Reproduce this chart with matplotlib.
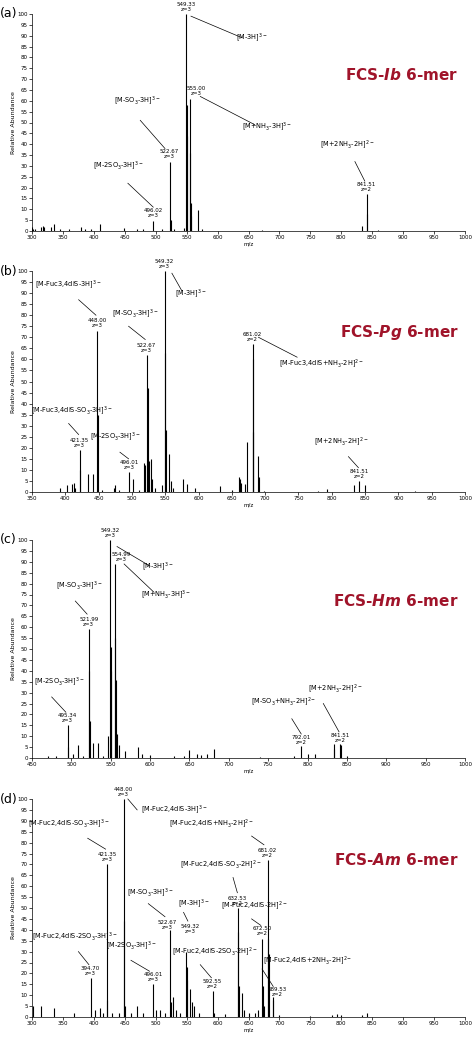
import matplotlib
matplotlib.use("Agg")
import matplotlib.pyplot as plt

plt.rcParams['mathtext.fontset'] = 'custom'
plt.rcParams['mathtext.it'] = 'DejaVu Sans:italic:bold'
plt.rcParams['mathtext.rm'] = 'DejaVu Sans'

peaks_a = [(300,2),(302,1),(305,1),(315,2),(318,2.5),(320,2),(330,2),(335,3),(345,1),(360,1),(380,2),(385,1),(395,1),(410,3),(448,1.5),(470,1),(480,1),(496.02,4.5),(510,1),(522.67,32),(524,5),(530,1),(545,1.5),(549.33,100),(550,58),(550.7,44),(555,61),(555.7,36),(556.5,13),(557,7),(568,9.5),(575,1),(672,0.5),(833,2.5),(841.51,17),(842,8),(860,0.5)]
peaks_b = [(392,2),(403,3),(410,3.5),(413,4),(415,2),(421.35,19),(422,10),(434,8),(442,8),(448,73),(449,35),(455,1),(473,2),(475,3),(480,1),(496.01,9),(501,6),(510,1),(518,13),(520,12),(522.67,62),(523.5,47),(525,14),(528,15),(530,6),(535,2),(545,3),(549.32,100),(550,63),(551,28),(556,17),(558,5),(562,2),(576,6),(582,3.5),(595,2),(632,2.5),(650,1),(660,7),(662,6),(664,4),(670,3.5),(673,22.5),(681.02,67),(681.7,60),(682.5,27),(690,16.5),(691,7),(698,0.5),(780,0.5),(793,1.5),(833,3),(841.51,5),(850,3),(925,0.3)]
peaks_c = [(470,1),(480,1),(495.34,15),(496,5),(502,2),(509,6),(515,1),(521.99,59),(522.7,40),(523.5,17),(528,7),(534,7),(540,1),(547,10),(549.32,100),(550,51),(550.7,40),(554.99,89),(555.6,55),(556.5,36),(558,11),(560,6),(568,3),(585,5),(590,2),(600,1.5),(630,1),(643,1),(650,3.5),(660,2),(665,1.5),(672,2),(681,4),(740,0.5),(783,1),(792.01,5.5),(800,2),(810,2),(833,6.5),(834,4),(841.51,6.5),(843,6),(850,1)]
peaks_d = [(302,5),(315,5),(335,4),(368,2),(394.7,18),(402,3),(410,4),(415,2),(421.35,70),(422,8),(430,2),(440,2),(448,100),(449,44),(450,5),(460,2),(470,5),(480,2),(496.01,15),(500,3),(507,3),(515,2),(522.67,40),(524,7),(528,9),(532,3),(540,2),(549.32,30),(550,23),(551,17),(555,13),(558,7),(562,5),(570,2),(592.55,12),(595,2),(612,1.5),(632.53,50),(633,39),(634,14),(640,11),(642,3),(650,2),(660,2),(665,3),(672.5,36),(673,14),(675,5),(681.02,72),(681.6,36),(682.5,29),(689.53,8),(690,9),(700,1),(750,0.5),(785,1),(793,1.5),(800,1),(833,1),(841,2)]

xlims = [(300,1000),(350,1000),(450,1000),(300,1000)]
letters = ['(a)','(b)','(c)','(d)']
titles = [r'FCS-$\mathit{Ib}$ 6-mer', r'FCS-$\mathit{Pg}$ 6-mer', r'FCS-$\mathit{Hm}$ 6-mer', r'FCS-$\mathit{Am}$ 6-mer']

# (peak label, ion label, label x,y, ion x,y, line from, line to)
ann_a = [("549.33\nz=3", r"[M-3H]$^{3-}$", 549,101, 655,86, (557,99),(640,89)),
         ("555.00\nz=3", r"[M+NH$_3$-3H]$^{3-}$", 565,62, 680,45, (572,62),(660,49)),
         ("522.67\nz=3", r"[M-SO$_3$-3H]$^{3-}$", 522,33, 470,57, (475,51),(515,38)),
         ("496.02\nz=3", r"[M-2SO$_3$-3H]$^{3-}$", 496,6, 440,27, (455,22),(496,11)),
         ("841.51\nz=2", r"[M+2NH$_3$-2H]$^{2-}$", 841,18, 810,37, (822,32),(838,23))]
ann_b = [("549.32\nz=3", r"[M-3H]$^{3-}$", 549,101, 588,87, (560,99),(575,91)),
         ("448.00\nz=3", r"[M-Fuc3,4diS-3H]$^{3-}$", 448,74, 405,91, (420,87),(446,80)),
         ("522.67\nz=3", r"[M-SO$_3$-3H]$^{3-}$", 522,63, 505,78, (495,75),(520,69)),
         ("681.02\nz=2", r"[M-Fuc3,4diS+NH$_3$-2H]$^{2-}$", 681,68, 785,55, (690,70),(748,61)),
         ("421.35\nz=3", r"[M-Fuc3,4diS-SO$_3$-3H]$^{3-}$", 421,20, 410,34, (405,31),(420,26)),
         ("496.01\nz=3", r"[M-2SO$_3$-3H]$^{3-}$", 496,10, 475,22, (482,18),(495,15)),
         ("841.51\nz=2", r"[M+2NH$_3$-2H]$^{2-}$", 841,6, 815,20, (825,16),(840,11))]
ann_c = [("549.32\nz=3", r"[M-3H]$^{3-}$", 549,101, 610,85, (558,97),(600,88)),
         ("554.99\nz=3", r"[M+NH$_3$-3H]$^{3-}$", 563,90, 620,72, (567,89),(605,76)),
         ("521.99\nz=3", r"[M-SO$_3$-3H]$^{3-}$", 522,60, 510,76, (505,72),(520,66)),
         ("495.34\nz=3", r"[M-2SO$_3$-3H]$^{3-}$", 495,16, 485,32, (475,28),(493,21)),
         ("792.01\nz=2", r"[M-SO$_3$+NH$_3$-2H]$^{2-}$", 792,6, 770,23, (780,18),(792,11)),
         ("841.51\nz=2", r"[M+2NH$_3$-2H]$^{2-}$", 841,7, 835,29, (820,25),(840,12))]
ann_d = [("448.00\nz=3", r"[M-Fuc2,4diS-3H]$^{3-}$", 448,101, 530,92, (455,100),(470,95)),
         ("421.35\nz=3", r"[M-Fuc2,4diS-SO$_3$-3H]$^{3-}$", 421,71, 360,86, (390,82),(419,77)),
         ("681.02\nz=2", r"[M-Fuc2,4diS+NH$_3$-2H]$^{2-}$", 681,73, 590,86, (655,83),(675,79)),
         ("632.53\nz=2", r"[M-Fuc2,4diS-SO$_3$-2H]$^{2-}$", 632,51, 605,67, (625,64),(632,57)),
         ("522.67\nz=3", r"[M-SO$_3$-3H]$^{3-}$", 518,40, 492,54, (488,52),(515,46)),
         ("549.32\nz=3", r"[M-3H]$^{3-}$", 556,38, 562,49, (545,48),(552,44)),
         ("672.50\nz=2", r"[M-Fuc2,4diS-2H]$^{2-}$", 672,37, 660,48, (655,45),(670,42)),
         ("394.70\nz=3", r"[M-Fuc2,4diS-2SO$_3$-3H]$^{3-}$", 394,19, 370,34, (375,30),(392,24)),
         ("496.01\nz=3", r"[M-2SO$_3$-3H]$^{3-}$", 496,16, 460,30, (460,26),(490,21)),
         ("592.55\nz=2", r"[M-Fuc2,4diS-2SO$_3$-2H]$^{2-}$", 592,13, 595,27, (572,24),(590,18)),
         ("689.53\nz=2", r"[M-Fuc2,4diS+2NH$_3$-2H]$^{2-}$", 697,9, 745,23, (672,22),(690,14))]

panels = [peaks_a, peaks_b, peaks_c, peaks_d]
anns = [ann_a, ann_b, ann_c, ann_d]

fig = plt.figure(figsize=(4.74, 10.37), dpi=100)
H = 1037
tops = [14, 271, 540, 799]
bots = [231, 492, 758, 1017]
left, right = 32/474, 465/474
for i in range(4):
    ax = fig.add_axes([left, 1 - bots[i]/H, right-left, (bots[i]-tops[i])/H])
    xs = [p[0] for p in panels[i]]
    ys = [p[1] for p in panels[i]]
    ax.vlines(xs, 0, ys, color='black', lw=0.8)
    ax.set_xlim(*xlims[i])
    ax.set_ylim(0, 100)
    ax.set_yticks(range(0, 101, 5))
    ax.set_xticks(range(xlims[i][0], 1001, 50))
    ax.tick_params(labelsize=4, length=2, width=0.5, pad=1)
    for s in ['top', 'right']:
        ax.spines[s].set_visible(False)
    for s in ['left', 'bottom']:
        ax.spines[s].set_linewidth(0.5)
    ax.set_xlabel('m/z', fontsize=4, labelpad=1)
    ax.set_ylabel('Relative Abundance', fontsize=4.5, labelpad=1)
    ax.text(-0.075, 1.0, letters[i], transform=ax.transAxes, fontsize=9, va='center')
    ax.text(0.985, 0.72, titles[i], transform=ax.transAxes, fontsize=11,
            color='#a0142a', fontweight='bold', ha='right', va='center')
    for lbl, ion, lx, ly, ix, iy, p0, p1 in anns[i]:
        ax.text(lx, ly, lbl, fontsize=4, ha='center', va='bottom', linespacing=1.0, clip_on=False)
        ax.text(ix, iy, ion, fontsize=4.8, ha='center', va='bottom', clip_on=False)
        ax.plot([p0[0], p1[0]], [p0[1], p1[1]], color='black', lw=0.5, clip_on=False)

fig.savefig('out.png', dpi=100)
